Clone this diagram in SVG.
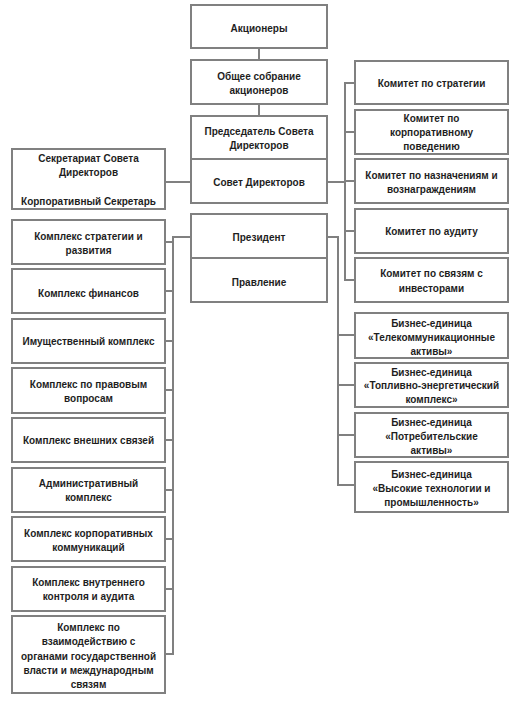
<svg xmlns="http://www.w3.org/2000/svg" width="530" height="703" viewBox="0 0 530 703">
<style>
rect{fill:#fff;stroke:#808080;stroke-width:2}
text{font-family:"Liberation Sans",Arial,sans-serif;font-weight:bold;font-size:10px;fill:#1e1e1e;text-anchor:middle}
.c line{stroke:#808080;stroke-width:2;fill:none}
</style>
<rect width="530" height="703" style="stroke:none"/>
<g class="c" id="connectors">
<line x1="259" y1="48" x2="259" y2="60"/>
<line x1="259" y1="104" x2="259" y2="116"/>
<line x1="165" y1="182" x2="191" y2="182"/>
<line x1="327" y1="182" x2="345" y2="182"/>
<line x1="345" y1="82" x2="345" y2="281"/>
<line x1="344" y1="83" x2="355" y2="83"/>
<line x1="345" y1="132" x2="355" y2="132"/>
<line x1="345" y1="181" x2="355" y2="181"/>
<line x1="345" y1="231" x2="355" y2="231"/>
<line x1="344" y1="280" x2="355" y2="280"/>
<line x1="327" y1="237" x2="339" y2="237"/>
<line x1="338" y1="236" x2="338" y2="486"/>
<line x1="338" y1="335" x2="355" y2="335"/>
<line x1="338" y1="385" x2="355" y2="385"/>
<line x1="338" y1="435" x2="355" y2="435"/>
<line x1="337" y1="485" x2="355" y2="485"/>
<line x1="191" y1="237" x2="172" y2="237"/>
<line x1="173" y1="236" x2="173" y2="655"/>
<line x1="165" y1="242" x2="173" y2="242"/>
<line x1="165" y1="291" x2="173" y2="291"/>
<line x1="165" y1="341" x2="173" y2="341"/>
<line x1="165" y1="390" x2="173" y2="390"/>
<line x1="165" y1="440" x2="173" y2="440"/>
<line x1="165" y1="490" x2="173" y2="490"/>
<line x1="165" y1="539" x2="173" y2="539"/>
<line x1="165" y1="589" x2="173" y2="589"/>
<line x1="165" y1="654" x2="174" y2="654"/>
</g>
<g id="n-akcionery"><rect x="191" y="5" width="136" height="43"/><text x="259" y="31.5">Акционеры</text></g>
<g id="n-sobranie"><rect x="191" y="60" width="136" height="44"/><text x="259" y="79.5">Общее собрание</text><text x="259" y="93.5">акционеров</text></g>
<g id="n-predsedatel"><rect x="191" y="116" width="136" height="43"/><text x="259" y="134.5">Председатель Совета</text><text x="259" y="148.5">Директоров</text></g>
<g id="n-sovet"><rect x="191" y="159" width="136" height="44"/><text x="259" y="185.5">Совет Директоров</text></g>
<g id="n-sekretariat"><rect x="12" y="149" width="153" height="60"/><text x="88.5" y="161.5">Секретариат Совета</text><text x="88.5" y="176">Директоров</text><text x="88.5" y="204.5">Корпоративный Секретарь</text></g>
<g id="n-k-strategii"><rect x="355" y="61" width="153" height="43"/><text x="431.5" y="86.5">Комитет по стратегии</text></g>
<g id="n-k-korp"><rect x="355" y="110" width="153" height="44"/><text x="431.5" y="121.5">Комитет по</text><text x="431.5" y="135.5">корпоративному</text><text x="431.5" y="150">поведению</text></g>
<g id="n-k-naznach"><rect x="355" y="159" width="153" height="44"/><text x="431.5" y="178.5">Комитет по назначениям и</text><text x="431.5" y="192.5">вознаграждениям</text></g>
<g id="n-k-audit"><rect x="355" y="209" width="153" height="44"/><text x="431.5" y="234.5">Комитет по аудиту</text></g>
<g id="n-k-invest"><rect x="355" y="258" width="153" height="44"/><text x="431.5" y="276.5">Комитет по связям с</text><text x="431.5" y="291.5">инвесторами</text></g>
<g id="n-prezident"><rect x="191" y="214" width="136" height="44"/><text x="259" y="240.5">Президент</text></g>
<g id="n-pravlenie"><rect x="191" y="258" width="136" height="44"/><text x="259" y="285.5">Правление</text></g>
<g id="n-be-telecom"><rect x="355" y="313" width="153" height="45"/><text x="431.5" y="326.5">Бизнес-единица</text><text x="431.5" y="340.5">«Телекоммуникационные</text><text x="431.5" y="354.5">активы»</text></g>
<g id="n-be-tek"><rect x="355" y="363" width="153" height="44"/><text x="431.5" y="375.5">Бизнес-единица</text><text x="431.5" y="388.5">«Топливно-энергетический</text><text x="431.5" y="402.5">комплекс»</text></g>
<g id="n-be-potreb"><rect x="355" y="413" width="153" height="44"/><text x="431.5" y="425.5">Бизнес-единица</text><text x="431.5" y="439.5">«Потребительские</text><text x="431.5" y="453.5">активы»</text></g>
<g id="n-be-tech"><rect x="355" y="462" width="153" height="50"/><text x="431.5" y="477.5">Бизнес-единица</text><text x="431.5" y="491.5">«Высокие технологии и</text><text x="431.5" y="505.5">промышленность»</text></g>
<g id="n-strategii"><rect x="12" y="220" width="153" height="44"/><text x="88.5" y="239.5">Комплекс стратегии и</text><text x="88.5" y="253.5">развития</text></g>
<g id="n-finansov"><rect x="12" y="269" width="153" height="44"/><text x="88.5" y="296.5">Комплекс финансов</text></g>
<g id="n-imush"><rect x="12" y="319" width="153" height="44"/><text x="88.5" y="344.5">Имущественный комплекс</text></g>
<g id="n-pravo"><rect x="12" y="368" width="153" height="45"/><text x="88.5" y="387.5">Комплекс по правовым</text><text x="88.5" y="401.5">вопросам</text></g>
<g id="n-vnesh"><rect x="12" y="418" width="153" height="44"/><text x="88.5" y="443.5">Комплекс внешних связей</text></g>
<g id="n-admin"><rect x="12" y="468" width="153" height="44"/><text x="88.5" y="486.5">Административный</text><text x="88.5" y="500.5">комплекс</text></g>
<g id="n-korp"><rect x="12" y="517" width="153" height="44"/><text x="88.5" y="536.5">Комплекс корпоративных</text><text x="88.5" y="550.5">коммуникаций</text></g>
<g id="n-vnutr"><rect x="12" y="567" width="153" height="44"/><text x="88.5" y="585.5">Комплекс внутреннего</text><text x="88.5" y="599.5">контроля и аудита</text></g>
<g id="n-vzaim"><rect x="12" y="616" width="153" height="77"/><text x="88.5" y="630.5">Комплекс по</text><text x="88.5" y="645">взаимодействию с</text><text x="88.5" y="659.5">органами государственной</text><text x="88.5" y="673.5">власти и международным</text><text x="88.5" y="687.5">связям</text></g>
</svg>
